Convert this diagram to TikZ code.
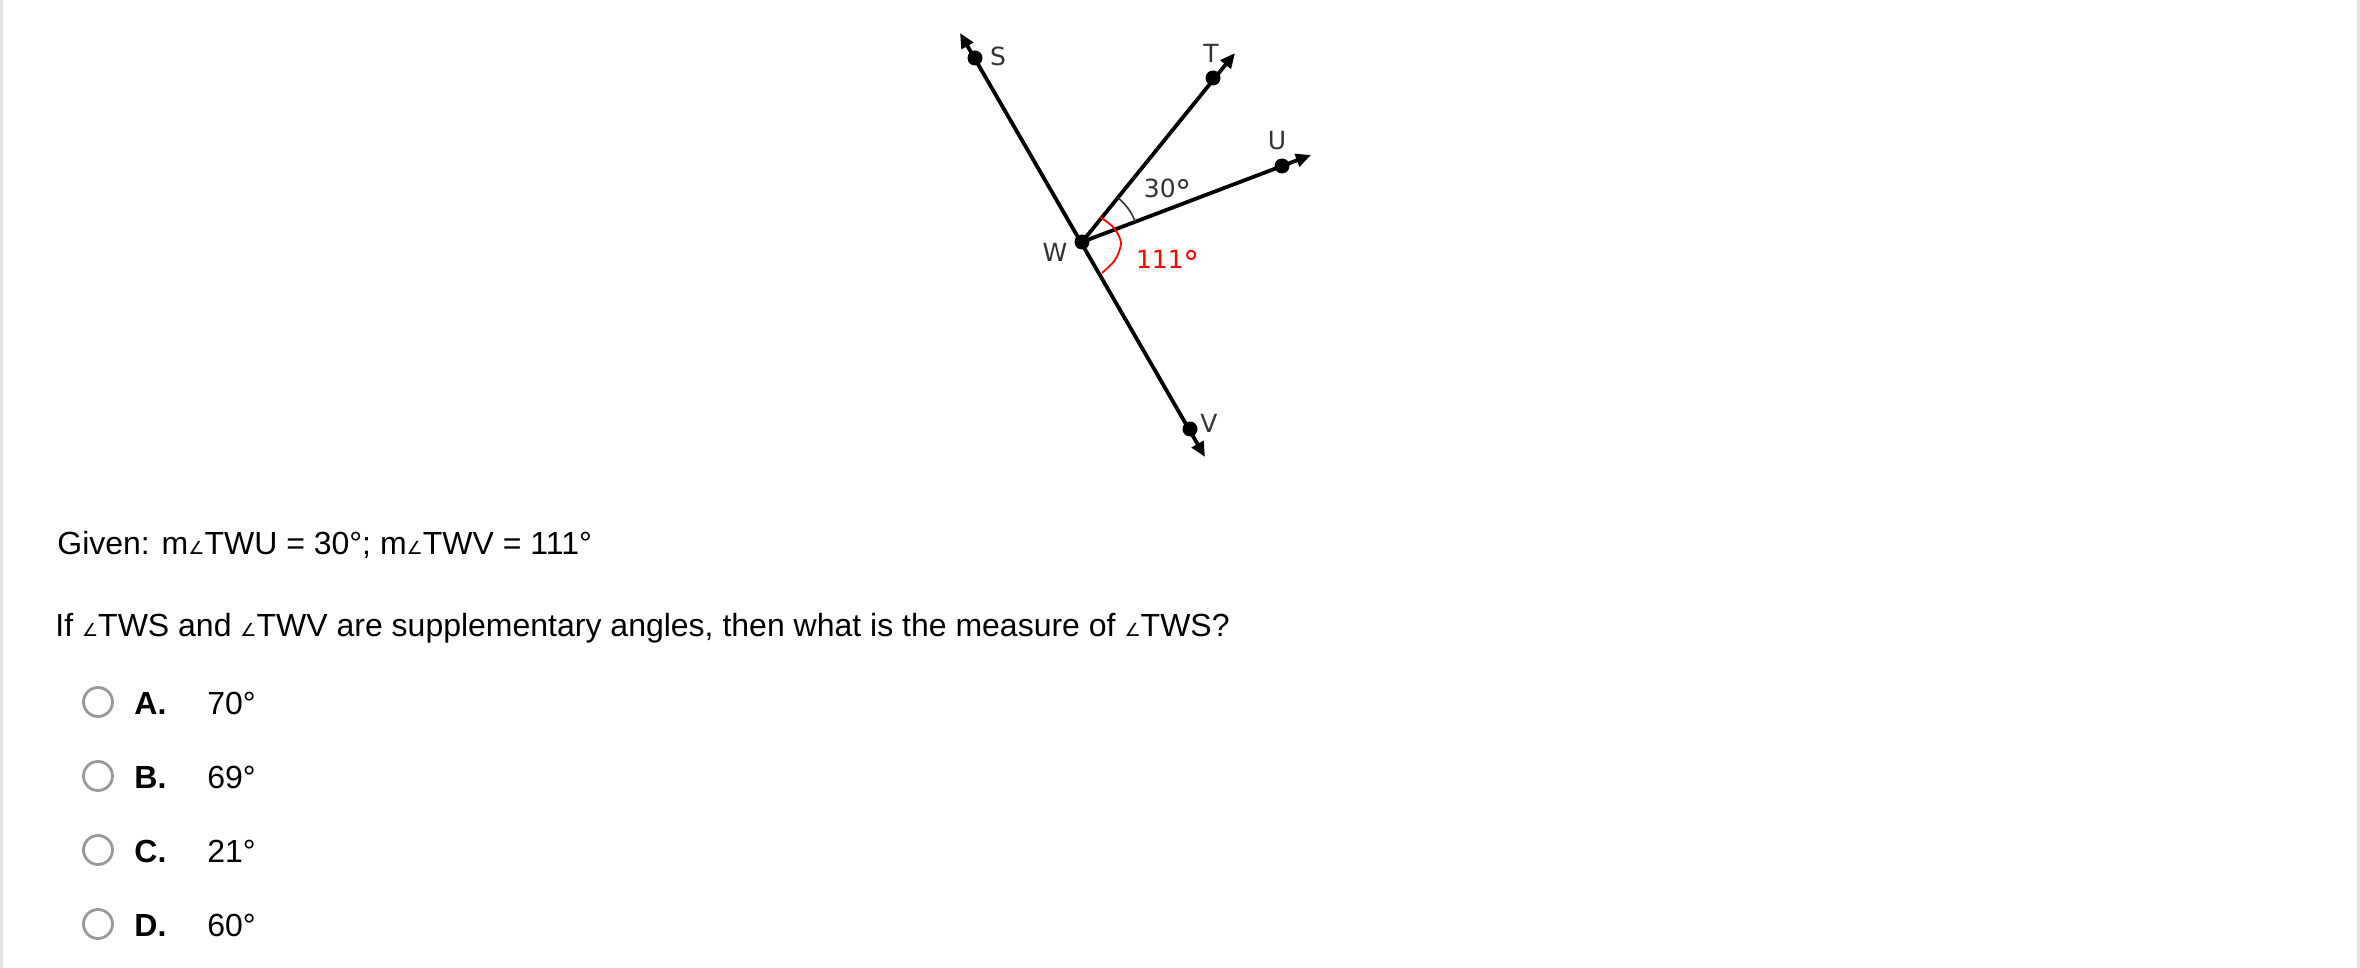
\documentclass[tikz,border=0pt]{standalone}
\usepackage{fontspec}
\usepackage{graphicx}
\setmainfont{Liberation Sans}
\newfontfamily\dvfont{DejaVu Sans}
\usetikzlibrary{arrows.meta}
\definecolor{lbl}{HTML}{333333}
\definecolor{radio}{HTML}{999999}
\definecolor{border}{HTML}{E6E6E6}
\newcommand\angsym{{\dvfont\fontsize{9pt}{9pt}\selectfont ∠}}
\newcommand\degring{\raisebox{-2.6pt}{\scalebox{1.3}{°}}}
\begin{document}
\begin{tikzpicture}[x=0.5pt,y=-0.5pt,
  ray/.style={line width=1.9pt,-{Triangle[length=7.5pt,width=6.5pt]}},
  dot/.style={circle,fill=black,inner sep=0pt,minimum size=7.5pt},
  ptlabel/.style={text=lbl,font=\dvfont\fontsize{12.5pt}{12.5pt}\selectfont,inner sep=0pt},
  qtext/.style={anchor=base west,inner sep=0pt,font=\fontsize{16pt}{20pt}\selectfont},
  radiobtn/.style={circle,draw=radio,line width=1.4pt,minimum size=14.5pt,inner sep=0pt}]
\useasboundingbox (0,0) rectangle (2360,968);
\fill[white] (0,0) rectangle (2360,968);
\fill[border] (0,0) rectangle (3,968);
\fill[border] (2357,0) rectangle (2360,968);
% points
\coordinate (Stip) at (960,33);
\coordinate (Vtip) at (1205,457);
\coordinate (Ttip) at (1235,53);
\coordinate (Utip) at (1311,155);
\coordinate (W) at (1082,242);
% rays
\draw[ray,{Triangle[length=7.5pt,width=6.5pt]}-{Triangle[length=7.5pt,width=6.5pt]}] (Stip) -- (Vtip);
\draw[ray] (W) -- (Ttip);
\draw[ray] (W) -- (Utip);
% angle arcs
\draw[lbl,line width=0.8pt] (W) ++(-20.8:57) arc[start angle=-20.8,end angle=-51.4,radius=57];
\draw[red,line width=0.9pt] plot[smooth] coordinates {(1100,217) (1114,228) (1121,243) (1115,260) (1102,273)};
% dots
\node[dot] (Wd) at (W) {};
\node[dot] (S) at (975,58) {};
\node[dot] (T) at (1213,78) {};
\node[dot] (U) at (1282,166) {};
\node[dot] (V) at (1190,429) {};
% labels
\node[ptlabel] (lS) at (998,56) {S};
\node[ptlabel] (lT) at (1211,53) {T};
\node[ptlabel] (lU) at (1277,141) {U};
\node[ptlabel] (lW) at (1055,252) {W};
\node[ptlabel] (lV) at (1209,423) {V};
\node[ptlabel,anchor=base] (a30) at (1168,198) {30\degring};
\node[ptlabel,anchor=base,text=red] (a111) at (1168,269) {111\degring};
% question
\node[qtext] (given) at (57,554) {Given: m\angsym TWU = 30°; m\angsym TWV = 111°};
\node[qtext] (quest) at (55,636) {If \angsym TWS and \angsym TWV are supplementary angles, then what is the measure of \angsym TWS?};
% options
\foreach \L/\val/\yb [count=\i] in {A/70/714, B/69/788, C/21/862, D/60/936}{
  \node[radiobtn] (r\L) at (98,\yb-12) {};
  \node[qtext,font=\fontsize{16pt}{20pt}\selectfont\bfseries] (l\L) at (134,\yb) {\L.};
  \node[qtext] (v\L) at (207,\yb) {\val°};
}
\end{tikzpicture}
\end{document}
